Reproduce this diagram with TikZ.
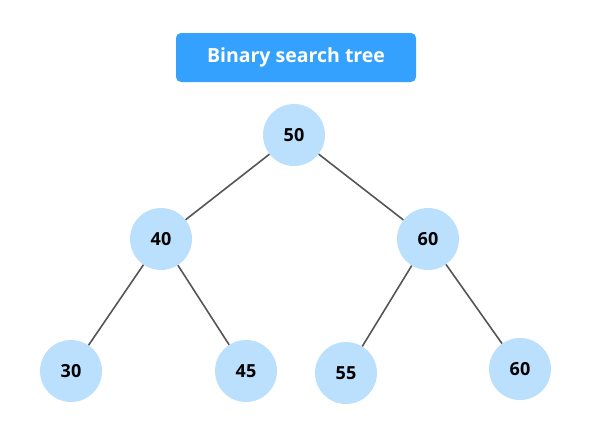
\documentclass[tikz,border=0pt]{standalone}
\usepackage{fontspec}
\setmainfont{Open Sans}
\definecolor{bstBlue}{HTML}{33A1FD}
\definecolor{bstNode}{HTML}{BBE0FD}
\definecolor{bstEdge}{HTML}{555555}
\usepackage{tikz}
\usetikzlibrary{positioning}

\begin{document}
\begin{tikzpicture}[
  x=1pt, y=-1pt,
  titlebox/.style={rounded corners=5pt, fill=bstBlue, text=white,
    minimum width=240pt, minimum height=49pt, inner sep=0pt,
    font=\fontsize{19.5}{22}\selectfont\bfseries},
  keynode/.style={circle, fill=bstNode, minimum size=62pt, inner sep=0pt,
    font=\fontsize{18}{21}\selectfont\bfseries},
  edge/.style={draw=bstEdge, line width=1.6pt}]

  \useasboundingbox (0,0) rectangle (597,423);

  \node[titlebox] (title) at (296,57.5) {Binary search tree};

  % keys
  \node[keynode] (root) at (294,135) {50};
  \node[keynode] (left) at (161,239) {40};
  \node[keynode] (right) at (428,239) {60};
  \node[keynode] (ll) at (71,371) {30};
  \node[keynode] (lr) at (246,371) {45};
  \node[keynode] (rl) at (346,373) {55};
  \node[keynode] (rr) at (520,369) {60};

  \draw[edge] (root) -- (left);
  \draw[edge] (root) -- (right);
  \draw[edge] (left) -- (ll);
  \draw[edge] (left) -- (lr);
  \draw[edge] (right) -- (rl);
  \draw[edge] (right) -- (rr);
\end{tikzpicture}
\end{document}
